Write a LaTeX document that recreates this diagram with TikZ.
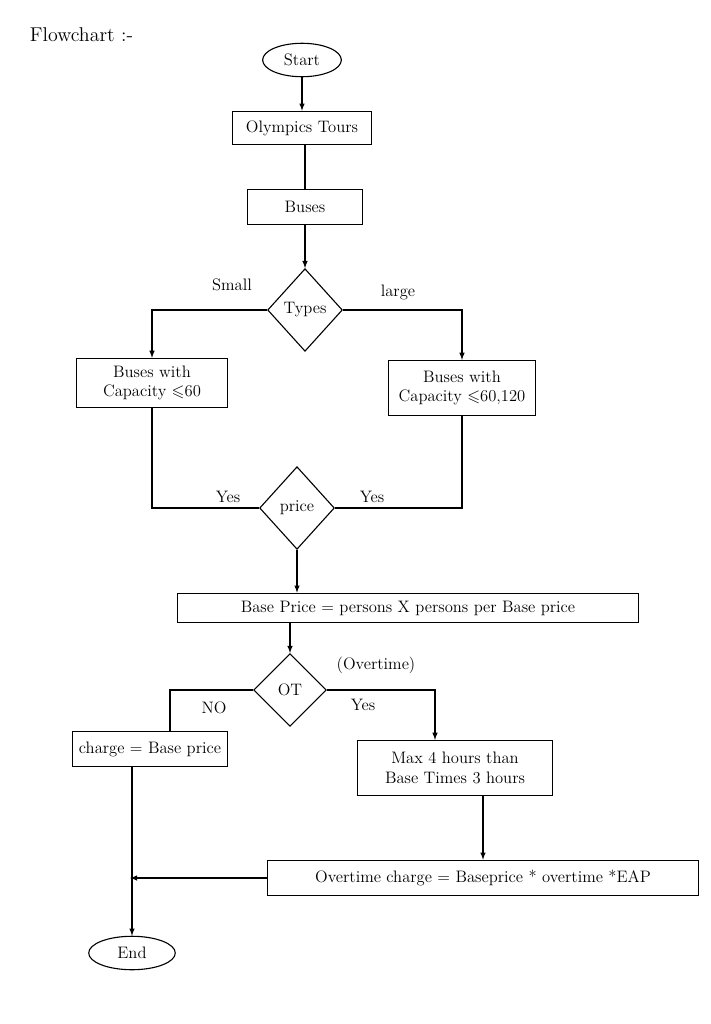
\documentclass[tikz,border=0pt]{standalone}
\usepackage{amsmath,amssymb}
\usetikzlibrary{shapes.geometric}
\begin{document}
\begin{tikzpicture}[x=0.0254cm,y=-0.0254cm]
% Styles
\tikzstyle{fleche}=[->,>=latex,thick]
\tikzstyle{trait}=[thick]
\tikzstyle{boite}=[draw,thick,fill=white,rectangle,align=center,inner sep=2pt,font=\large]
\tikzstyle{terminal}=[draw,thick,fill=white,ellipse,minimum width=2cm,minimum height=0.85cm,font=\large]
\tikzstyle{choix}=[draw,thick,fill=white,diamond,minimum width=1.9cm,minimum height=2.1cm,inner sep=0pt,font=\large]
\tikzstyle{etiquette}=[font=\large]
\useasboundingbox (0,0) rectangle (711,1024);
% Noeuds
\node[anchor=west,font=\Large] (titre) at (25,35) {Flowchart :-};
\node[terminal] (debut) at (302,60) {Start};
\node[boite,minimum width=3.55cm,minimum height=0.85cm] (olymp) at (302,128) {Olympics Tours};
\node[boite,minimum width=2.9cm,minimum height=0.9cm] (bus) at (305,207) {Buses};
\node[choix] (types) at (305,310) {Types};
\node[boite,minimum width=3.85cm,minimum height=1.25cm] (petit) at (152,383) {Buses with\\Capacity $\leqslant$60};
\node[boite,minimum width=3.75cm,minimum height=1.4cm] (grand) at (462,388) {Buses with\\Capacity $\leqslant$60,120};
\node[choix] (prix) at (297,508) {price};
\node[boite,minimum width=11.7cm,minimum height=0.75cm] (base) at (408,608) {Base Price = persons X persons per Base price};
\node[choix,minimum width=1.85cm,minimum height=1.85cm] (ot) at (290,690) {OT};
\node[boite,minimum width=3.95cm,minimum height=0.9cm] (charge) at (150,749) {charge = Base price};
\node[boite,minimum width=4.95cm,minimum height=1.4cm] (max) at (455,768) {Max 4 hours than\\Base Times 3 hours};
\node[boite,minimum width=10.95cm,minimum height=0.9cm] (surcharge) at (483,878) {Overtime charge = Baseprice * overtime *EAP};
\node[terminal,minimum width=2.2cm] (fin) at (132,953) {End};
% Coordonnees
\coordinate (cE) at (170,690);
\coordinate (cF) at (435,690);
\coordinate (cG) at (130,878);
% Etiquettes
\node[etiquette] (lpetit) at (232,285) {Small};
\node[etiquette] (lgrand) at (398,292) {large};
\node[etiquette] (loui1) at (228,497) {Yes};
\node[etiquette] (loui2) at (372,497) {Yes};
\node[etiquette] (lsup) at (376,665) {(Overtime)};
\node[etiquette] (lnon) at (214,708) {NO};
\node[etiquette] (loui3) at (363,705) {Yes};
% Arcs
\draw[fleche] (debut)--(olymp);
\draw[trait] (olymp.south -| bus)--(bus);
\draw[fleche] (bus)--(types);
\draw[fleche] (types.west)-|(petit.north);
\draw[fleche] (types.east)-|(grand.north);
\draw[trait] (petit.south)|-(prix.west);
\draw[trait] (grand.south)|-(prix.east);
\draw[fleche] (prix)--(base.north -| prix);
\draw[fleche] (base.south -| ot)--(ot);
\draw[trait] (ot.west)-|(charge.north -| cE);
\draw[fleche] (ot.east)-|(max.north -| cF);
\draw[fleche] (max.south -| surcharge.north)--(surcharge.north);
\draw[fleche] (surcharge.west)--(cG);
\draw[fleche] (charge.south -| fin)--(fin);
\end{tikzpicture}
\end{document}
